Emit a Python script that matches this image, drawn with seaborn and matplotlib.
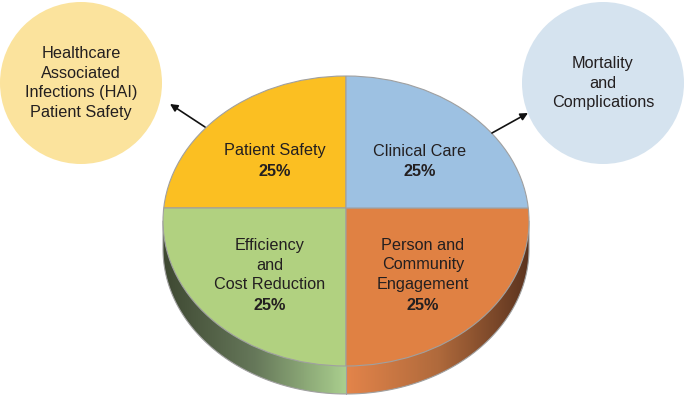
import numpy as np
import matplotlib.pyplot as plt
from matplotlib.patches import Ellipse, Circle, Polygon
from matplotlib.colors import LinearSegmentedColormap
import seaborn as sns

sns.set_style("white")
plt.rcParams['font.family'] = ['Liberation Sans', 'DejaVu Sans']

# --- data (pie order: startangle 90, counter-clockwise)
sections = ['Patient Safety', 'Efficiency\nand\nCost Reduction',
            'Person and\nCommunity\nEngagement', 'Clinical Care']
shares = [25, 25, 25, 25]
section_colors = ['#FBBF22', '#B1D180', '#E08143', '#9DC1E2']

outcomes = ['Healthcare\nAssociated\nInfections (HAI)\nPatient Safety',
            'Mortality\nand\nComplications']
outcome_colors = ['#FBE39D', '#D5E3EF']

# --- layout (pixels)
W, H = 685, 397
cx, cy, rx, ry = 346, 221, 183, 145   # top face ellipse
split_y = 208                          # where the slices meet
depth = 28
txt_color = '#231f20'
edge = '#a0a0a0'
ls = 1.4

fig = plt.figure(figsize=(W / 100, H / 100), dpi=100)

# --- pie, in unit-ellipse coordinates
ax = fig.add_axes([0, 0, 1, 1])
wedges, _ = ax.pie(shares, colors=section_colors, startangle=90, counterclock=True,
                   center=(0, (cy - split_y) / ry), radius=1.5,
                   wedgeprops=dict(linewidth=0.8, edgecolor=edge, zorder=3))
face = Ellipse((0, 0), 2, 2, facecolor='none', edgecolor=edge, lw=0.8, zorder=4)
ax.add_patch(face)
for w in wedges:
    w.set_clip_on(True)
    w.set_clip_path(face)

# side of the disc
d = depth / ry
t = np.linspace(np.pi, 2 * np.pi, 300)
side_xy = np.vstack([[-1, 0], np.column_stack([np.cos(t), np.sin(t) - d]), [1, 0]])
side = Polygon(side_xy, closed=True, facecolor='none', edgecolor=edge, lw=0.8, zorder=2)
ax.add_patch(side)
cmap = LinearSegmentedColormap.from_list(
    'side', [(0, '#3e4832'), (0.25, '#66785a'), (0.499, '#aacf8e'),
             (0.501, '#e3844a'), (0.75, '#b06a3c'), (1, '#5b331e')])
img = ax.imshow(np.linspace(0, 1, 500)[None, :], cmap=cmap, extent=(-1, 1, -1 - d, 0),
                aspect='auto', interpolation='bilinear', zorder=1)
img.set_clip_path(side)
ax.plot([0, 0], [-1, -1 - d], color=edge, lw=0.8, zorder=2)

ax.set_aspect('auto')
ax.set_xlim((0 - cx) / rx, (W - cx) / rx)
ax.set_ylim((cy - H) / ry, cy / ry)
ax.axis('off')

# --- overlay in pixel coordinates
ax2 = fig.add_axes([0, 0, 1, 1])
ax2.set_xlim(0, W)
ax2.set_ylim(H, 0)
ax2.axis('off')

label_xy = [(275, 151, 171), (270, 265, 305), (423, 265, 305), (420, 151, 171)]
for name, val, (x, y, yp) in zip(sections, shares, label_xy):
    ax2.text(x, y, name, ha='center', va='center', multialignment='center',
             fontsize=11.7, color=txt_color, linespacing=ls)
    ax2.text(x, yp, f'{val}%', ha='center', va='center', fontsize=11.7,
             fontweight='bold', color=txt_color)

circle_xy = [(81, 83), (603, 83)]
for name, col, (x, y) in zip(outcomes, outcome_colors, circle_xy):
    ax2.add_patch(Circle((x, y), 81, facecolor=col, edgecolor='none'))
    ax2.text(x, y, name, ha='center', va='center', multialignment='center',
             fontsize=11.7, color=txt_color, linespacing=ls)

arrow = dict(arrowstyle='-|>', color='#111111', lw=1.2, mutation_scale=11, shrinkA=0, shrinkB=0)
ax2.annotate('', xy=(170, 104), xytext=(205, 127), arrowprops=arrow)
ax2.annotate('', xy=(528, 113), xytext=(492, 133), arrowprops=arrow)

fig.savefig('out.png', dpi=100)
